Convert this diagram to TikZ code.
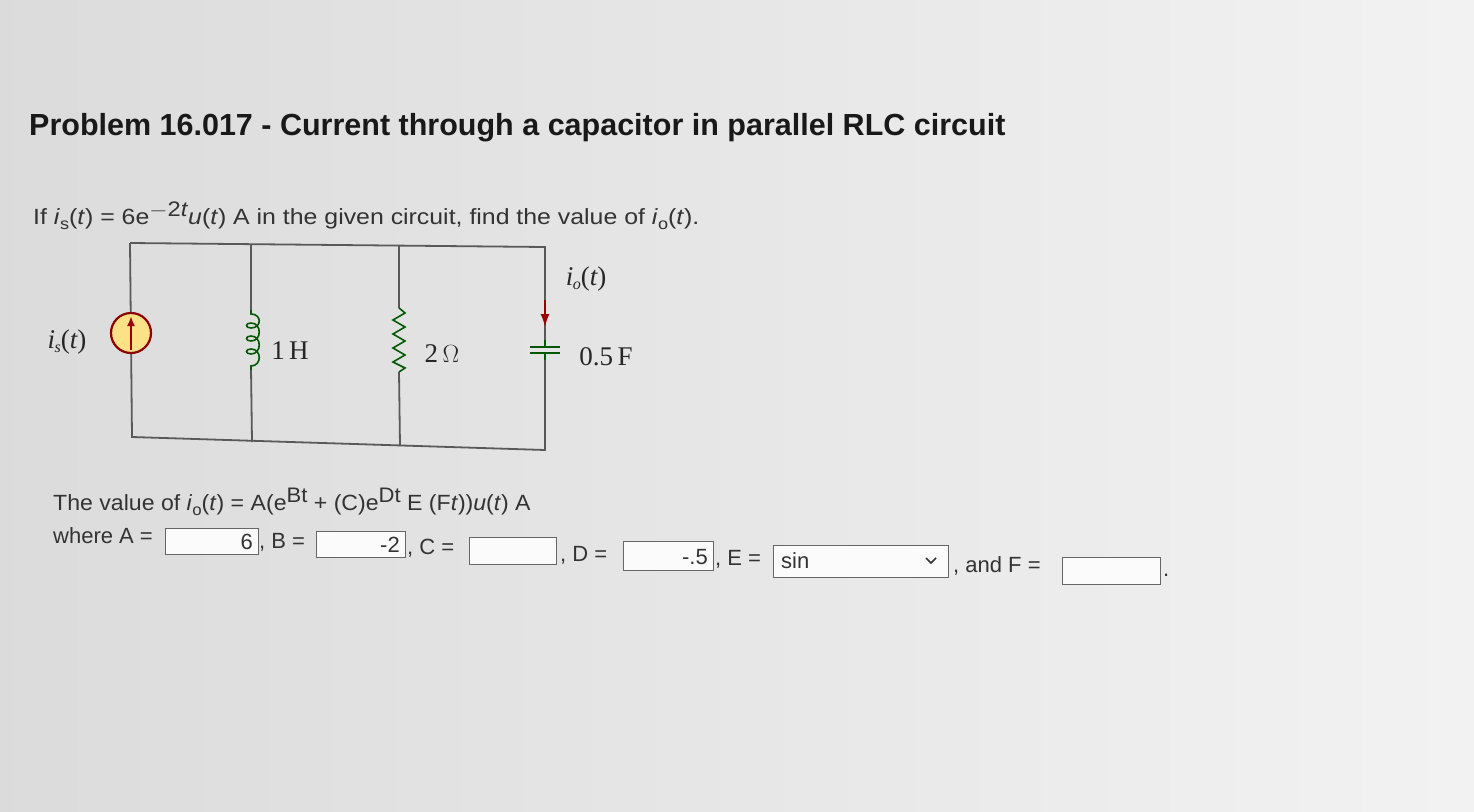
\documentclass[tikz,border=0pt]{standalone}
\usepackage{fontspec}
\usetikzlibrary{arrows.meta}
\setmainfont{Liberation Sans}
\newfontfamily\serifc{Liberation Serif}
\newcommand\mysb[1]{\raisebox{-5pt}{\fontsize{16}{16}\selectfont #1}}
\newcommand\mysp[1]{\raisebox{8pt}{\fontsize{21}{21}\selectfont #1}}
\begin{document}
\begin{tikzpicture}[x=1pt,y=-1pt,
  wire/.style={draw=black!65, line width=1.8pt},
  comp/.style={draw=green!35!black, line width=1.6pt},
  ansbox/.style={draw=black!60, fill=white!97!gray, line width=1pt},
  lbl/.style={anchor=west, inner sep=0, font=\fontsize{22}{24}\selectfont, text=black!80},
  clbl/.style={inner sep=0, font=\serifc\fontsize{27}{29}\selectfont, text=black!85}]
\shade[left color=black!14, right color=black!5] (0,0) rectangle (1474,811);
\useasboundingbox (0,0) rectangle (1474,811);
\node[anchor=west, inner sep=0, font=\bfseries\fontsize{30.5}{33}\selectfont, text=black!90] (title) at (29,128) {Problem 16.017 - Current through a capacitor in parallel RLC circuit};
\node[lbl] (q) at (33,216) {\scalebox{1.13}[1]{If \textit{i}\mysb{s}(\textit{t}) = 6e\mysp{$-$2\textit{t}}\textit{u}(\textit{t}) A in the given circuit, find the value of \textit{i}\mysb{o}(\textit{t}).}};
% circuit
\coordinate (tl) at (130,243); \coordinate (tr) at (545,247);
\coordinate (bl) at (132,437); \coordinate (br) at (545,450);
\draw[wire] (tl) -- (tr) -- (545,340) (545,360) -- (br) -- (bl) -- (tl);
\draw[wire] (251,244) -- (251,312) (251,368) -- (252,442);
\draw[wire] (399,245) -- (399,308) (399,372) -- (400,446);
% source
\node[circle, draw=red!55!black, fill=yellow!55!orange!45, line width=2.2pt, minimum size=40pt, inner sep=0] (src) at (131,333) {};
\draw[-{Latex[length=10pt,width=8pt]}, red!60!black, line width=2.4pt] (131,350) -- (131,316);
% inductor
\draw[comp] (251,310) -- (251,314)
  .. controls (262,314) and (262,328) .. (251,328) .. controls (245,328) and (245,323) .. (251,323)
  .. controls (262,323) and (262,341) .. (251,341) .. controls (245,341) and (245,336) .. (251,336)
  .. controls (262,336) and (262,354) .. (251,354) .. controls (245,354) and (245,349) .. (251,349)
  .. controls (262,349) and (262,366) .. (251,366) -- (251,370);
% resistor
\draw[comp] (399,308) -- (405,313) -- (393,320) -- (405,327) -- (393,334) -- (405,341) -- (393,348) -- (405,355) -- (393,362) -- (405,368) -- (399,372);
% capacitor
\draw[comp] (530,347) -- (560,347) (530,353) -- (560,353);
\draw[comp] (545,340) -- (545,347) (545,353) -- (545,360);
\draw[-{Latex[length=13pt,width=9pt]}, red!60!black, line width=1.8pt] (545,300) -- (545,327);
\node[clbl] (isl) at (67,342) {\itshape i\kern-0.5pt\raisebox{-4pt}{\fontsize{16}{16}\selectfont s}\upshape(\itshape t\upshape)};
\node[clbl] (lL) at (290,351) {1\,H};
\node[clbl] (lR) at (442,354) {2\,$\Omega$};
\node[clbl] (lC) at (606,357) {0.5\,F};
\node[clbl] (io) at (586,279) {\itshape i\kern-0.5pt\raisebox{-4pt}{\fontsize{16}{16}\selectfont o}\upshape(\itshape t\upshape)};
% answer
\node[lbl] (ans) at (53,502) {\scalebox{1.05}[1]{The value of \textit{i}\mysb{o}(\textit{t}) = A(e\mysp{Bt} + (C)e\mysp{Dt} E (F\textit{t}))\textit{u}(\textit{t}) A}};
\node[lbl] (wh) at (53,536) {where A =};
\draw[ansbox] (165,528) rectangle (258,554); \node[lbl, anchor=east] (va) at (253,542) {6};
\node[lbl] (cb) at (259,542) {, B =};
\draw[ansbox] (316,531) rectangle (405,557); \node[lbl, anchor=east] (vb) at (400,545) {-2};
\node[lbl] (cc) at (407,548) {, C =};
\draw[ansbox] (469,537) rectangle (556,564);
\node[lbl] (cd) at (560,555) {, D =};
\draw[ansbox] (623,541) rectangle (713,570); \node[lbl, anchor=east] (vd) at (708,557) {-.5};
\node[lbl] (ce) at (715,559) {, E =};
\draw[ansbox] (773,545) rectangle (948,577); \node[lbl] (ve) at (781,561) {sin};
\draw[line width=1.5pt, black!80] (926,558) -- (931,563) -- (936,558);
\node[lbl] (cf) at (953,566) {, and F =};
\draw[ansbox] (1062,557) rectangle (1160,584);
\node[lbl] (dot) at (1163,575) {.};
\end{tikzpicture}
\end{document}
